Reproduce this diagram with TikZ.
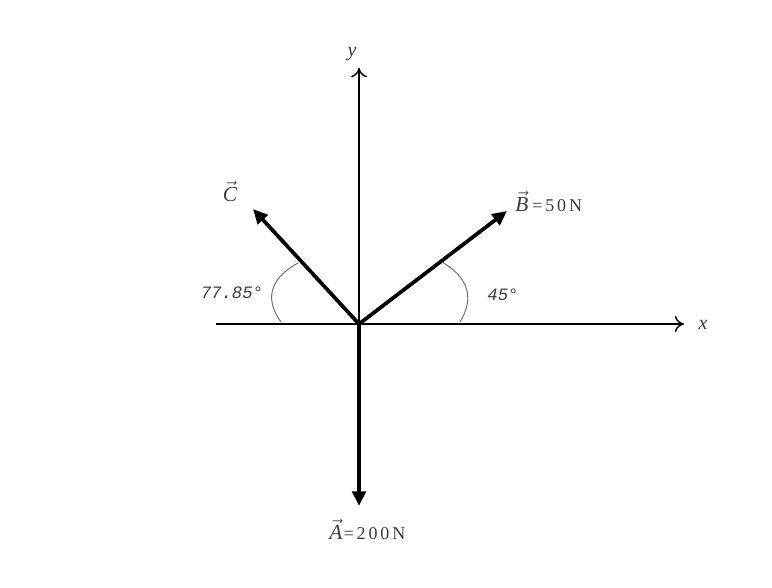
\documentclass[tikz,border=0pt]{standalone}
\usepackage{fontspec}
\setmainfont{Liberation Serif}
\newfontfamily\monofont{Liberation Mono}
\newfontfamily\spacedfont[LetterSpace=16]{Liberation Serif}
\usetikzlibrary{arrows.meta}
\definecolor{txt}{RGB}{60,60,60}
\newcommand{\vlab}[1]{{\fontsize{16}{18}\selectfont$\vec{\textit{#1}}$}}
\begin{document}
\begin{tikzpicture}[x=0.75pt,y=-0.75pt,
  axis/.style={line width=1.1pt,-{To[length=7pt,width=12pt,line width=1.1pt]}},
  vec/.style={line width=2.8pt,-{Triangle[length=11pt,width=10pt]}},
  anglearc/.style={draw=gray!85!black,line width=0.7pt},
  lbl/.style={text=txt,inner sep=0pt,font=\fontsize{13.5}{16}\selectfont},
  anglbl/.style={text=txt,inner sep=0pt,font=\fontsize{13}{15}\selectfont\monofont\itshape}]
\useasboundingbox (0,0) rectangle (772,588);
\coordinate (O) at (359,324);
\coordinate (xl) at (216,324);
\coordinate (xr) at (684,324);
\coordinate (yt) at (359,68);
\coordinate (Ct) at (253,209);
\coordinate (Bt) at (507,211);
\coordinate (At) at (359,506);
\draw[line width=1.1pt] (xl) -- (O);
\draw[axis] (O) -- (xr);
\draw[axis] (O) -- (yt);
\draw[vec] (O) -- (Ct);
\draw[vec] (O) -- (Bt);
\draw[vec] (O) -- (At);
\coordinate (c1) at (298,263);
\coordinate (c2) at (281,322);
\coordinate (b1) at (442,262);
\coordinate (b2) at (460,322);
\draw[anglearc] (c1) .. controls (274,276) and (262,296) .. (c2);
\draw[anglearc] (b1) .. controls (466,276) and (476,296) .. (b2);
\node[lbl,font=\fontsize{15}{17}\selectfont] (ylab) at (352,54) {\textit{y}};
\node[lbl,font=\fontsize{15}{17}\selectfont] (xlab) at (703,325) {\textit{x}};
\node[lbl] (Clab) at (230,191) {\vlab{C}};
\node[lbl,anchor=west] (Blab) at (515,201) {\vlab{B}\hspace{3pt}{\spacedfont =50N}};
\node[lbl,anchor=west] (Alab) at (329,529) {\vlab{A}\hspace{1pt}{\spacedfont =200N}};
\node[anglbl] (ac) at (232,293) {77.85°};
\node[anglbl] (ab) at (503,295) {45°};
\end{tikzpicture}
\end{document}
